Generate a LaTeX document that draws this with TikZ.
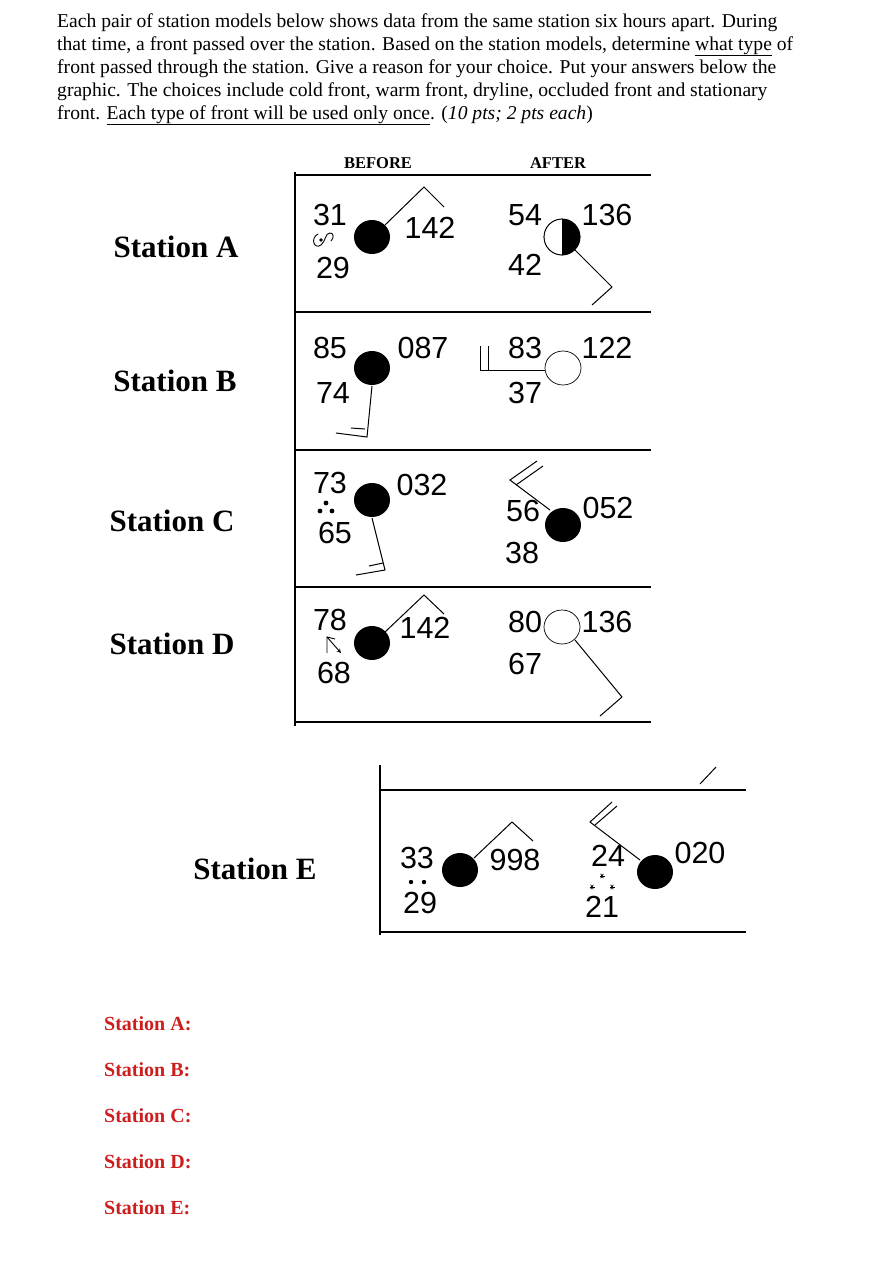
\documentclass[tikz,border=0pt]{standalone}
\usepackage{fontspec}
\setmainfont{Liberation Serif}
\newfontfamily\numfont{Liberation Sans}
\begin{document}
\begin{tikzpicture}[x=1pt,y=-1pt,
  body/.style={anchor=base west,inner sep=0,font=\fontsize{19.6}{22}\selectfont},
  hdr/.style={inner sep=0,font=\bfseries\fontsize{16.5}{18}\selectfont},
  stn/.style={inner sep=0,font=\bfseries\fontsize{31}{34}\selectfont},
  num/.style={inner sep=0,font=\numfont\fontsize{30.5}{32}\selectfont},
  ans/.style={anchor=base west,inner sep=0,text=ansred,font=\bfseries\fontsize{20}{22}\selectfont},
  rule/.style={line width=1.3pt},
  staff/.style={line width=1pt},
  odot/.style={fill=white,draw=black,line width=0.7pt}]
\definecolor{ansred}{RGB}{205,30,30}
\useasboundingbox (0,0) rectangle (873,1280);
\node[body] (t1) at (57,27) {Each pair of station models below shows data from the same station six hours apart. During};
\node[body] (t2) at (57,50) {that time, a front passed over the station. Based on the station models, determine \underline{what type} of};
\node[body] (t3) at (57,73) {front passed through the station. Give a reason for your choice. Put your answers below the};
\node[body] (t4) at (57,96) {graphic. The choices include cold front, warm front, dryline, occluded front and stationary};
\node[body] (t5) at (57,119) {front. \underline{Each type of front will be used only once}. (\textit{10 pts; 2 pts each})};
% table
\draw[rule] (295,172) -- (295,726);
\foreach \y in {175,312,450,587,722} \draw[rule] (295,\y) -- (651,\y);
\node[hdr] (hb) at (378,163) {BEFORE};
\node[hdr] (ha) at (558,163) {AFTER};
\node[stn] (sA) at (176,247) {Station A};
\node[stn] (sB) at (175,381) {Station B};
\node[stn] (sC) at (172,521) {Station C};
\node[stn] (sD) at (172,644) {Station D};
\node[stn] (sE) at (255,869) {Station E};
% --- A before
\draw[staff] (385,225) -- (424,187) -- (444,207);
\fill (372,237) ellipse (18 and 17);
\node[num] at (330,215) {31};
\node[num] at (333,268) {29};
\node[num] at (430,228) {142};
\draw[line width=0.9pt] (318,234) .. controls (310,238) and (314,250) .. (321,245) .. controls (326,241) and (325,233) .. (330,233) .. controls (334,233) and (334,238) .. (331,241);
\fill (321,240) circle (1.8);
% --- A after
\draw[staff] (575,250) -- (612,287) -- (592,305);
\draw[odot] (562,237) circle (18);
\fill (562,219) arc (-90:90:18) -- cycle;
\draw[line width=0.7pt] (562,237) circle (18);
\node[num] at (525,215) {54};
\node[num] at (607,215) {136};
\node[num] at (525,265) {42};
% --- B before
\draw[staff] (372,386) -- (367,437) -- (336,433);
\draw[staff] (351,428) -- (365,429);
\fill (372,368) ellipse (18 and 17);
\node[num] at (330,348) {85};
\node[num] at (423,348) {087};
\node[num] at (333,393) {74};
% --- B after
\draw[staff] (545,370) -- (480,370) -- (480,346);
\draw[staff] (488,370) -- (488,346);
\draw[odot] (563,368) ellipse (18 and 17);
\node[num] at (525,348) {83};
\node[num] at (607,348) {122};
\node[num] at (525,393) {37};
% --- C before
\draw[staff] (372,518) -- (385,570) -- (356,575);
\draw[staff] (369,566) -- (383,563);
\fill (372,500) ellipse (18 and 17);
\node[num] at (330,483) {73};
\node[num] at (422,485) {032};
\node[num] at (335,533) {65};
\foreach \p in {(326,503),(320,511),(332,511)} \fill \p circle (2.4);
% --- C after
\draw[staff] (550,510) -- (510,480) -- (537,461);
\draw[staff] (516,485) -- (543,466);
\fill (563,525) ellipse (18 and 17);
\node[num] at (523,511) {56};
\node[num] at (608,508) {052};
\node[num] at (522,553) {38};
% --- D before
\draw[staff] (385,632) -- (424,595) -- (444,614);
\fill (372,643) ellipse (18 and 17);
\node[num] at (330,620) {78};
\node[num] at (425,628) {142};
\node[num] at (334,673) {68};
\draw[line width=0.9pt] (327,653) -- (327,637) -- (335,639);
\draw[line width=0.9pt,-stealth] (327,637) -- (341,653);
% --- D after
\draw[staff] (575,640) -- (622,697) -- (600,716);
\draw[odot] (562,627) ellipse (18 and 17);
\node[num] at (525,622) {80};
\node[num] at (607,622) {136};
\node[num] at (525,664) {67};
% --- Station E
\draw[rule] (380,765) -- (380,935);
\draw[rule] (380,790) -- (746,790);
\draw[rule] (380,932) -- (746,932);
\draw[staff] (700,784) -- (716,767);
\draw[staff] (474,858) -- (512,822) -- (533,841);
\fill (460,870) ellipse (18 and 17);
\node[num] at (417,858) {33};
\foreach \p in {(411,882),(424,882)} \fill \p circle (2.2);
\node[num] at (420,903) {29};
\node[num] at (515,860) {998};
\draw[staff] (640,860) -- (590,822) -- (612,802);
\draw[staff] (595,825) -- (617,806);
\fill (655,872) ellipse (18 and 17);
\node[num] at (608,856) {24};
\foreach \p in {(602,876),(592,887),(612,887)}
  \foreach \a in {0,60,120} \draw[line width=0.8pt] \p ++(\a:2.5) -- ++(\a+180:5);
\node[num] at (602,907) {21};
\node[num] at (700,853) {020};
% answers
\node[ans] (aA) at (104,1030) {Station A:};
\node[ans] (aB) at (104,1076) {Station B:};
\node[ans] (aC) at (104,1122) {Station C:};
\node[ans] (aD) at (104,1168) {Station D:};
\node[ans] (aE) at (104,1214) {Station E:};
\end{tikzpicture}
\end{document}
